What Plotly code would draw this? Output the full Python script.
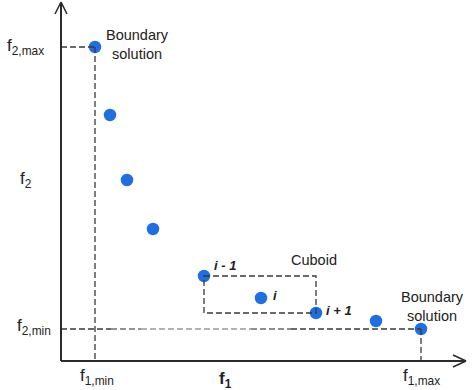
import plotly.graph_objects as go

# Pareto front solutions (f1, f2) in arbitrary objective units
f1 = [34, 49, 66, 92, 143, 200, 255, 315, 360]
f2 = [314, 246, 181, 132, 85, 63, 48, 40, 32]
idx_prev, idx_cur, idx_next = 4, 5, 6

x_tick_labels = ["f<sub>1,min</sub>", "f<sub>1</sub>", "f<sub>1,max</sub>"]
y_tick_labels = ["f<sub>2,max</sub>", "f<sub>2</sub>", "f<sub>2,min</sub>"]

AX = "#2b2b2b"
DASH = "#3a3a3a"
TXT = "#222222"
FONT = "Liberation Sans, Arial, sans-serif"

fig = go.Figure()
fig.add_trace(go.Scatter(
    x=f1, y=f2, mode="markers",
    marker=dict(size=12.5, color="#1f6fe3", line=dict(width=0)),
    hoverinfo="skip", showlegend=False))

f1min, f1max = f1[0], f1[-1]
f2max, f2min = f2[0], f2[-1]
DP = "6px,3px"
dl = dict(color=DASH, width=1.3, dash=DP)
shapes = [
    dict(type="line", x0=0, y0=f2max, x1=f1min, y1=f2max, line=dl),
    dict(type="line", x0=f1min, y0=f2max, x1=f1min, y1=0, line=dl),
    dict(type="line", x0=f1max, y0=f2min, x1=f1max, y1=0, line=dl),
    dict(type="rect", x0=f1[idx_prev], y0=f2[idx_prev], x1=f1[idx_next], y1=f2[idx_next], line=dl),
]
# bottom dashed line fades lighter in its middle part, as in the reference scan
seg_breaks = [0, 50, 80, 190, 230, f1max]
seg_colors = [DASH, "#707070", "#9a9a9a", "#6a6a6a", DASH]
for a, b, c in zip(seg_breaks[:-1], seg_breaks[1:], seg_colors):
    shapes.append(dict(type="line", x0=a, y0=f2min, x1=b, y1=f2min,
                       line=dict(color=c, width=1.3, dash=DP)))
shapes += [
    dict(type="line", x0=0, y0=0, x1=0, y1=359, line=dict(color=AX, width=2)),
    dict(type="line", x0=0, y0=0, x1=405, y1=0, line=dict(color=AX, width=2)),
    dict(type="line", x0=0, y0=359, x1=-6, y1=347, line=dict(color=AX, width=1.6)),
    dict(type="line", x0=0, y0=359, x1=6, y1=347, line=dict(color=AX, width=1.6)),
    dict(type="line", x0=405, y0=0, x1=392, y1=6, line=dict(color=AX, width=1.6)),
    dict(type="line", x0=405, y0=0, x1=392, y1=-6, line=dict(color=AX, width=1.6)),
]

def ann(x, y, text, size=14, xanchor="center"):
    return dict(x=x, y=y, text=text, showarrow=False, xanchor=xanchor, yanchor="middle",
                font=dict(family=FONT, size=size, color=TXT))

annotations = [
    ann(-15, f2max, y_tick_labels[0], 17, "right"),
    ann(-35, 181, y_tick_labels[1], 17),
    ann(-8, 34, y_tick_labels[2], 17, "right"),
    ann(36, -16, x_tick_labels[0], 17),
    ann(164, -19, "<b>" + x_tick_labels[1] + "</b>", 17),
    ann(f1max, -16, x_tick_labels[2], 17),
    ann(76, 317, "Boundary<br>solution", 14.5),
    ann(371, 55, "Boundary<br>solution", 14.5),
    ann(253, 101, "Cuboid", 14.5),
    ann(164, 96, "<b><i>i - 1</i></b>", 13),
    ann(214, 66, "<b><i>i</i></b>", 13),
    ann(278, 51, "<b><i>i + 1</i></b>", 13),
]

fig.update_layout(
    width=474, height=390,
    margin=dict(l=0, r=0, t=0, b=0),
    paper_bgcolor="white", plot_bgcolor="white",
    xaxis=dict(range=[-61, 413], visible=False, fixedrange=True),
    yaxis=dict(range=[-29, 361], visible=False, fixedrange=True),
    shapes=shapes, annotations=annotations,
)
fig.write_html("out.html", config={"displayModeBar": False},
               post_script="document.body.style.margin='0';document.body.style.overflow='hidden';")
